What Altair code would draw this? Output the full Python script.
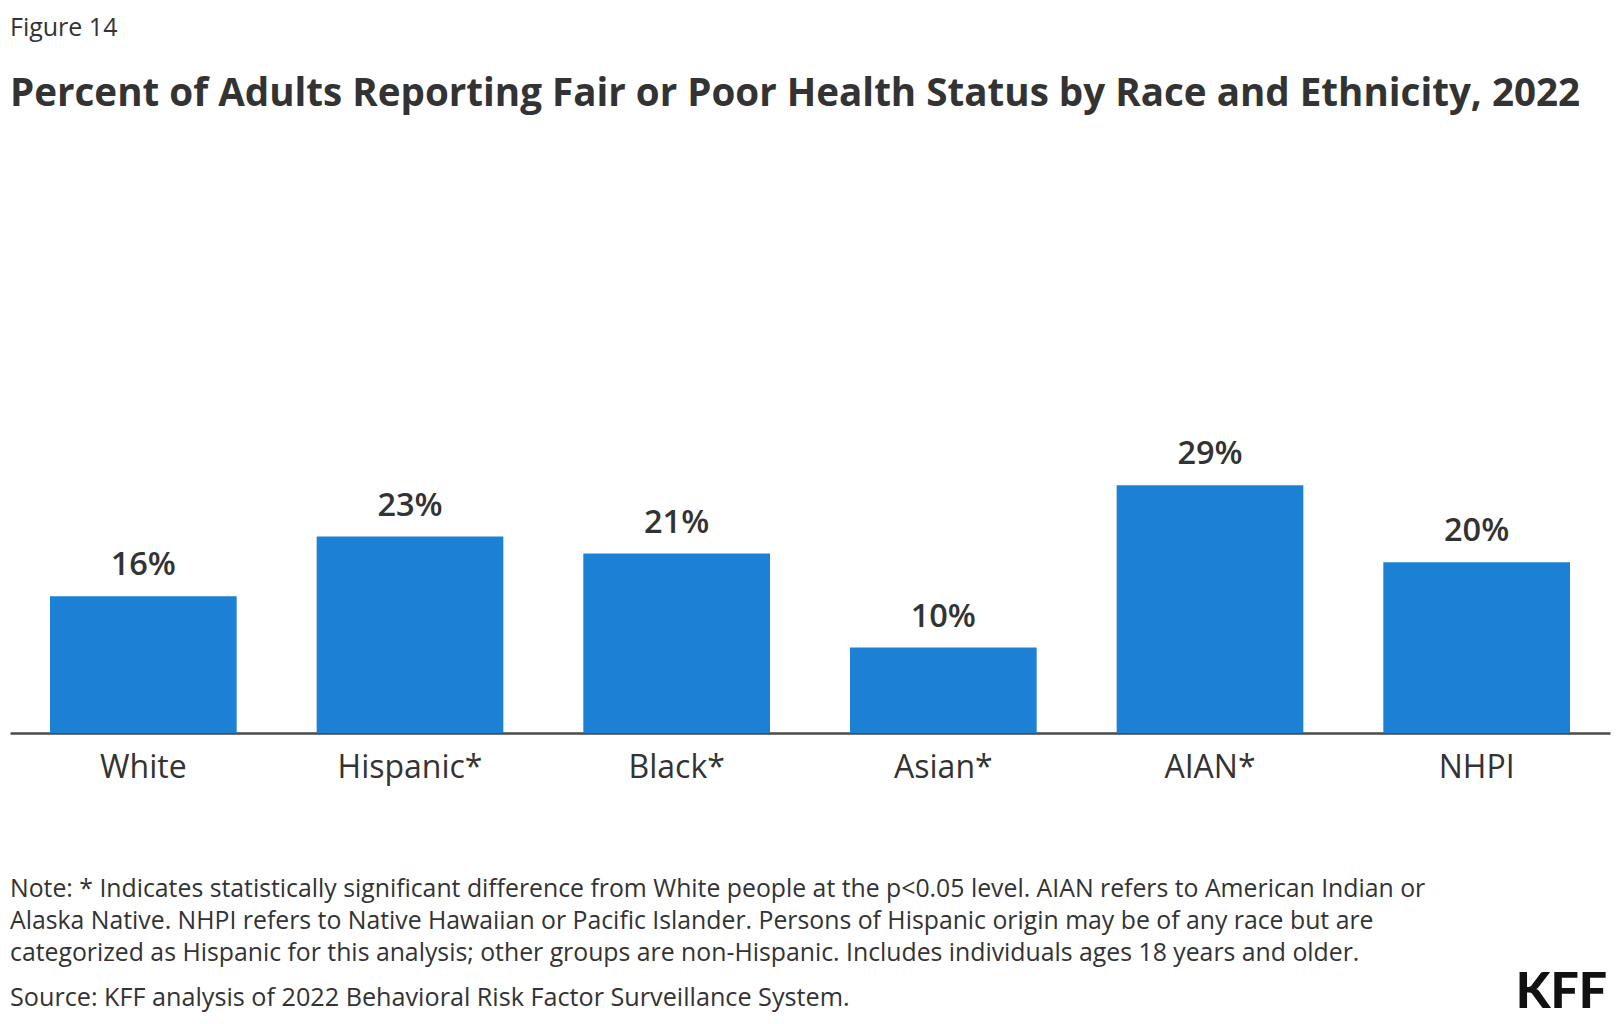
import altair as alt
import pandas as pd

# Share of adults reporting fair or poor health, 2022
groups = ["White", "Hispanic*", "Black*", "Asian*", "AIAN*", "NHPI"]
percent = [16, 23, 21, 10, 29, 20]

figure_label = "Figure 14"
headline = "Percent of Adults Reporting Fair or Poor Health Status by Race and Ethnicity, 2022"
note_lines = [
    "Note: * Indicates statistically significant difference from White people at the p<0.05 level. AIAN refers to American Indian or",
    "Alaska Native. NHPI refers to Native Hawaiian or Pacific Islander. Persons of Hispanic origin may be of any race but are",
    "categorized as Hispanic for this analysis; other groups are non-Hispanic. Includes individuals ages 18 years and older.",
]
source_line = "Source: KFF analysis of 2022 Behavioral Risk Factor Surveillance System."
logo_text = "KFF"

FONT = "Open Sans"
INK = "#333333"
BLUE = "#1c80d4"

df = pd.DataFrame({"group": groups, "pct": percent})
df["label"] = [f"{v}%" for v in percent]

x_enc = alt.X(
    "group:N",
    sort=groups,
    scale=alt.Scale(paddingInner=0.3, paddingOuter=0.15),
    axis=alt.Axis(
        title=None,
        labelAngle=0,
        labelFont=FONT,
        labelFontSize=32,
        labelColor=INK,
        labelPadding=44,
        labelBaseline="alphabetic",
        ticks=False,
        tickSize=0,
        domainColor="#4a4a4a",
        domainWidth=2.5,
        grid=False,
    ),
)
y_enc = alt.Y("pct:Q", scale=alt.Scale(domain=[0, 35], nice=False), axis=None)

base = alt.Chart(df)

bars = base.mark_bar(color=BLUE).encode(x=x_enc, y=y_enc)

values = base.mark_text(
    font=FONT, fontSize=32.5, fontWeight=600, color=INK,
    baseline="alphabetic", dy=-21,
).encode(x=x_enc, y=y_enc, text="label:N")

one = pd.DataFrame({"k": [0]})


def caption(text, y, size, weight="normal", x=0, align="left", color=INK,
            line_height=None, font=FONT):
    props = dict(font=font, fontSize=size, fontWeight=weight, color=color,
                 align=align, baseline="alphabetic")
    if line_height is not None:
        props["lineBreak"] = "\n"
        props["lineHeight"] = line_height
    return alt.Chart(one).mark_text(**props).encode(
        x=alt.value(x), y=alt.value(y), text=alt.value(text)
    )


fig_txt = caption(figure_label, -398, 25)
title_txt = caption(headline, -328, 38.6, weight="bold")
notes_txt = caption("\n".join(note_lines), 463, 24.8, line_height=32)
source_txt = caption(source_line, 572, 25.2)
logo_txt = caption(logo_text, 574, 50, weight=900, x=1597, align="right",
                   color="#111111", font="Lato")

chart = (
    alt.layer(bars, values, fig_txt, title_txt, notes_txt, source_txt, logo_txt)
    .properties(
        width=1600,
        height=299,
        autosize=alt.AutoSizeParams(type="none"),
        padding={"left": 10, "right": 10, "top": 434, "bottom": 291},
        background="white",
    )
    .configure_view(stroke=None)
)

chart.save("out.html", embed_options={"renderer": "svg", "actions": False})
